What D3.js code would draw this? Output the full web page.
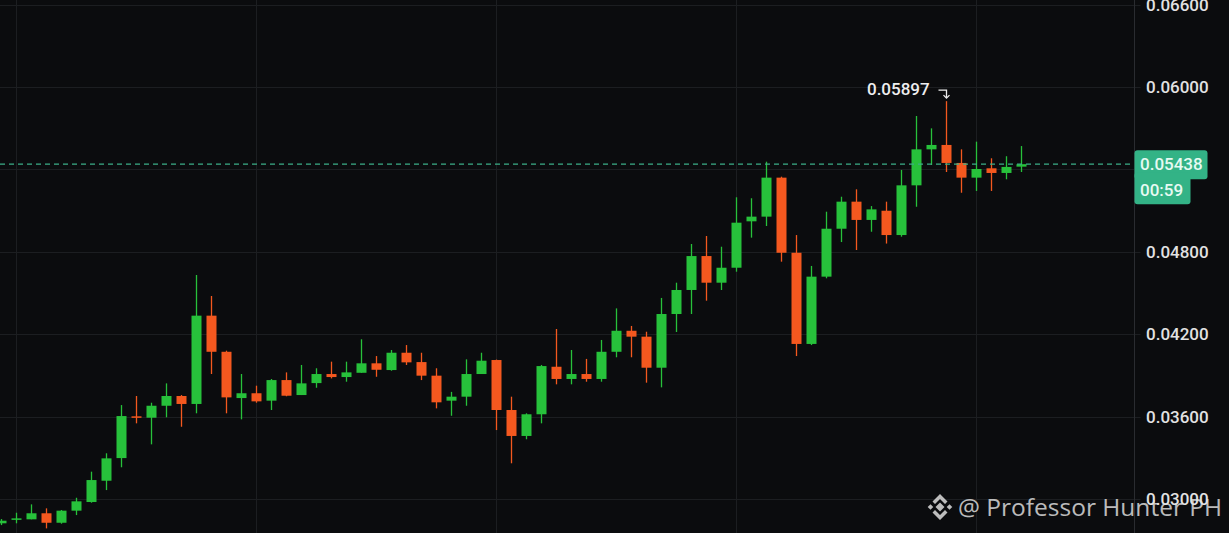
<!DOCTYPE html>
<html>
<head>
<meta charset="utf-8">
<script src="https://cdn.jsdelivr.net/npm/d3@7"></script>
<style>
html, body { margin: 0; padding: 0; background: #0b0c0e; overflow: hidden; }
svg { display: block; }
</style>
</head>
<body>
<div id="chart"></div>
<script>
// candle values (oldest first)
var opens = [0.02823,0.02854,0.02852,0.02896,0.02827,0.02915,0.02978,0.03133,0.03298,0.03602,
    0.03592,0.03679,0.03750,0.03692,0.04335,0.04072,0.03735,0.03770,0.03716,0.03866,
    0.03757,0.03844,0.03910,0.03888,0.03919,0.03988,0.03939,0.04065,0.03997,0.03898,
    0.03716,0.03745,0.03910,0.04012,0.03648,0.03459,0.03617,0.03963,0.03874,0.03910,
    0.03874,0.04072,0.04225,0.04182,0.03956,0.04347,0.04522,0.04769,0.04575,0.04684,
    0.05022,0.05056,0.05340,0.04793,0.04129,0.04619,0.04968,0.05165,0.05032,0.05099,
    0.04922,0.05284,0.05546,0.05578,0.05447,0.05340,0.05408,0.05374,0.05420];
var highs = [0.02854,0.02900,0.02961,0.02932,0.02920,0.03009,0.03199,0.03333,0.03684,0.03750,
    0.03701,0.03842,0.03757,0.04631,0.04478,0.04080,0.03910,0.03825,0.03874,0.03922,
    0.03976,0.03952,0.04000,0.04000,0.04163,0.04041,0.04085,0.04121,0.04065,0.03952,
    0.03780,0.04017,0.04065,0.04015,0.03745,0.03624,0.03976,0.04238,0.04085,0.04020,
    0.04158,0.04388,0.04260,0.04218,0.04464,0.04575,0.04857,0.04915,0.04837,0.05197,
    0.05190,0.05456,0.05347,0.04922,0.04697,0.05092,0.05201,0.05255,0.05133,0.05165,
    0.05396,0.05789,0.05699,0.05897,0.05546,0.05602,0.05481,0.05496,0.05570];
var lows = [0.02810,0.02823,0.02852,0.02786,0.02820,0.02883,0.02973,0.03065,0.03231,0.03551,
    0.03398,0.03595,0.03526,0.03624,0.03910,0.03624,0.03580,0.03701,0.03648,0.03748,
    0.03757,0.03810,0.03878,0.03854,0.03919,0.03890,0.03934,0.03976,0.03866,0.03660,
    0.03606,0.03679,0.03910,0.03502,0.03260,0.03435,0.03551,0.03835,0.03835,0.03854,
    0.03854,0.04032,0.04032,0.03847,0.03813,0.04216,0.04347,0.04444,0.04522,0.04655,
    0.04903,0.04988,0.04728,0.04041,0.04121,0.04607,0.04871,0.04813,0.04946,0.04860,
    0.04910,0.05128,0.05432,0.05381,0.05230,0.05243,0.05243,0.05328,0.05381];
var closes = [0.02842,0.02859,0.02896,0.02827,0.02915,0.02983,0.03138,0.03296,0.03604,0.03597,
    0.03679,0.03750,0.03692,0.04335,0.04072,0.03740,0.03770,0.03711,0.03866,0.03752,
    0.03842,0.03910,0.03888,0.03922,0.03988,0.03941,0.04065,0.03995,0.03898,0.03704,
    0.03745,0.03910,0.04007,0.03648,0.03459,0.03617,0.03968,0.03874,0.03910,0.03874,
    0.04072,0.04225,0.04182,0.03956,0.04347,0.04522,0.04769,0.04575,0.04684,0.05012,
    0.05056,0.05340,0.04793,0.04129,0.04619,0.04968,0.05165,0.05032,0.05109,0.04922,
    0.05284,0.05546,0.05578,0.05447,0.05340,0.05403,0.05374,0.05418,0.05438];

var yTicks = [0.030, 0.036, 0.042, 0.048, 0.054, 0.060, 0.066];
var xGridEvery = 16;      // a vertical grid line every 16 candles
var lastPrice = 0.05438;
var countdown = "00:59";
var watermark = "@ Professor Hunter PH";

var width = 1229, height = 533;
var axisX = 1134.5;

var upColor = "#27c13b", downColor = "#f4581f";
var gridColor = "#1c1e21";
var fmt = d3.format(".5f");

var candles = opens.map(function (o, i) {
    return {i: i, open: o, high: highs[i], low: lows[i], close: closes[i]};
});

var svg = d3.select("#chart").append("svg")
    .attr("width", width)
    .attr("height", height);

svg.append("rect").attr("width", width).attr("height", height).attr("fill", "#0b0c0e");

var x = d3.scaleLinear()
    .domain([0, candles.length - 1])
    .range([0.7, 1020.7]);

var y = d3.scaleLinear()
    .domain([0.030, 0.060])
    .range([499, 87]);

var bodyW = 10;

// grid
var vIdx = d3.range(1, candles.length, xGridEvery);
svg.append("g").selectAll("line").data(vIdx).enter().append("line")
    .attr("x1", d => Math.round(x(d)) + 0.5).attr("x2", d => Math.round(x(d)) + 0.5)
    .attr("y1", 0).attr("y2", height)
    .attr("stroke", gridColor).attr("stroke-width", 1);

svg.append("g").selectAll("line").data(yTicks).enter().append("line")
    .attr("x1", 0).attr("x2", axisX + 6)
    .attr("y1", d => Math.round(y(d)) + 0.5).attr("y2", d => Math.round(y(d)) + 0.5)
    .attr("stroke", gridColor).attr("stroke-width", 1);

// watermark
var wm = svg.append("g").attr("fill", "rgba(228,228,228,0.82)");
var logo = wm.append("g").attr("transform", "translate(940,507)");
logo.append("path").attr("d", "M0,-4.5 L4.5,0 L0,4.5 L-4.5,0 Z");
logo.append("path").attr("d", "M-9.5,-2.8 L-6.7,0 L-9.5,2.8 L-12.3,0 Z");
logo.append("path").attr("d", "M9.5,-2.8 L12.3,0 L9.5,2.8 L6.7,0 Z");
logo.append("path").attr("d", "M0,-13 L7.5,-5.5 L5,-3 L0,-8 L-5,-3 L-7.5,-5.5 Z");
logo.append("path").attr("d", "M0,13 L7.5,5.5 L5,3 L0,8 L-5,3 L-7.5,5.5 Z");
wm.append("text")
    .attr("x", 958).attr("y", 516)
    .style("font-family", "'Open Sans', 'Noto Sans', sans-serif")
    .style("font-size", "24.5px")
    .text(watermark);

// candles
var g = svg.append("g");
var c = g.selectAll("g.candle").data(candles).enter().append("g").attr("class", "candle");

c.append("line")
    .attr("x1", d => Math.round(x(d.i)) + 0.5).attr("x2", d => Math.round(x(d.i)) + 0.5)
    .attr("y1", d => y(d.high)).attr("y2", d => y(d.low))
    .attr("stroke", d => d.close >= d.open ? upColor : downColor)
    .attr("stroke-width", 1.3);

c.append("rect")
    .attr("x", d => Math.round(x(d.i)) + 0.5 - bodyW / 2)
    .attr("y", d => y(Math.max(d.open, d.close)))
    .attr("width", bodyW)
    .attr("height", d => Math.max(1.5, Math.abs(y(d.open) - y(d.close))))
    .attr("fill", d => d.close >= d.open ? upColor : downColor);

// current price line
svg.append("line")
    .attr("x1", 0).attr("x2", axisX)
    .attr("y1", y(lastPrice)).attr("y2", y(lastPrice))
    .attr("stroke", "#3cae88").attr("stroke-width", 1.2)
    .attr("stroke-dasharray", "5,4");

// highest high marker
var hiIdx = d3.maxIndex(highs);
svg.append("text")
    .attr("x", x(hiIdx) - 16).attr("y", y(highs[hiIdx]) - 6)
    .attr("text-anchor", "end")
    .attr("fill", "#eeeeee")
    .style("font-family", "Roboto, sans-serif")
    .style("font-size", "17px")
    .style("font-weight", "500")
    .text(fmt(highs[hiIdx]));
var ax = Math.round(x(hiIdx)) + 0.5, ay = y(highs[hiIdx]);
svg.append("path")
    .attr("d", "M" + (ax - 8) + "," + (ay - 11) + " H" + ax + " V" + (ay - 4))
    .attr("fill", "none").attr("stroke", "#eeeeee").attr("stroke-width", 1.3);
svg.append("path")
    .attr("d", "M" + (ax - 3) + "," + (ay - 6) + " L" + ax + "," + (ay - 3) + " L" + (ax + 3) + "," + (ay - 6))
    .attr("fill", "none").attr("stroke", "#eeeeee").attr("stroke-width", 1.3);

// right price axis
svg.append("line")
    .attr("x1", axisX).attr("x2", axisX).attr("y1", 0).attr("y2", height)
    .attr("stroke", "#2a2c30").attr("stroke-width", 1);

// labels hidden behind the last-price tag are not drawn
var ly = y(lastPrice);
var shownTicks = yTicks.filter(d => Math.abs(y(d) - ly) > 22);

svg.append("g").selectAll("text").data(shownTicks).enter().append("text")
    .attr("x", 1146).attr("y", d => y(d))
    .attr("dy", "0.36em")
    .attr("fill", "#e2e2e2")
    .style("font-family", "Roboto, sans-serif")
    .style("font-size", "17px")
    .style("font-weight", "500")
    .text(d => fmt(d));

// last price tag
var tag = svg.append("g");
tag.append("rect").attr("x", axisX).attr("y", ly - 14).attr("width", 73).attr("height", 29)
    .attr("rx", 3).attr("fill", "#33b386");
tag.append("rect").attr("x", axisX).attr("y", ly + 8).attr("width", 56).attr("height", 32)
    .attr("rx", 3).attr("fill", "#33b386");
tag.append("text").attr("x", 1140).attr("y", ly).attr("dy", "0.36em")
    .attr("fill", "#e6faf2")
    .style("font-family", "Roboto, sans-serif").style("font-size", "17px").style("font-weight", "500")
    .text(fmt(lastPrice));
tag.append("text").attr("x", 1140).attr("y", ly + 26).attr("dy", "0.36em")
    .attr("fill", "#e6faf2")
    .style("font-family", "Roboto, sans-serif").style("font-size", "17px").style("font-weight", "500")
    .text(countdown);
</script>
</body>
</html>
